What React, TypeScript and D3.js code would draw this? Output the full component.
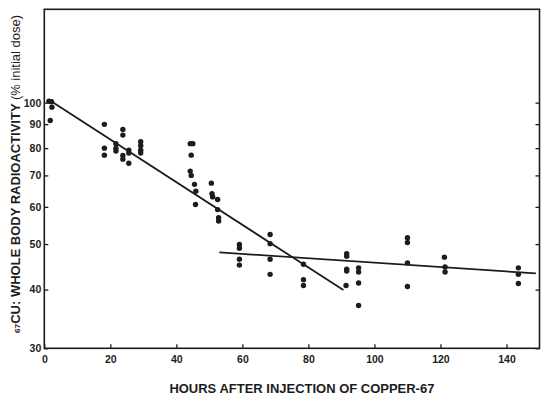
import { useEffect, useRef } from "react";
import * as d3 from "d3";

// hours after injection / whole body radioactivity (% of initial dose)
const hours = [
  1.4, 2.2, 2.3, 1.8,
  18.2, 18.2, 18.2,
  21.7, 21.7, 21.7,
  23.8, 23.8, 23.8, 23.8,
  25.6, 25.6, 25.6,
  29.2, 29.2, 29.2, 29.2,
  44.2, 45.0, 44.5, 44.2, 44.5, 45.5, 45.9, 45.8,
  50.6, 50.8, 51.0,
  52.5, 52.5, 52.8, 52.8,
  59.1, 59.1, 59.1, 59.1,
  68.4, 68.4, 68.4, 68.4,
  78.5, 78.5, 78.5,
  91.6, 91.6, 91.6, 91.6, 91.4,
  95.2, 95.2, 95.2, 95.2,
  110, 110, 110, 110,
  121.2, 121.4, 121.4,
  143.6, 143.6, 143.6,
];
const percent = [
  100.7, 100.4, 97.8, 91.6,
  89.9, 80.0, 77.3,
  81.8, 80.0, 78.9,
  87.7, 85.3, 77.2, 75.8,
  79.2, 78.1, 74.3,
  82.6, 81.0, 79.2, 78.1,
  81.8, 81.8, 77.3, 71.5, 70.0, 67.0, 64.8, 60.7,
  67.4, 64.0, 63.0,
  62.2, 59.2, 56.9, 56.0,
  49.9, 49.0, 46.4, 45.1,
  52.4, 50.1, 46.4, 43.1,
  45.3, 42.0, 40.8,
  47.7, 47.1, 44.2, 43.8, 40.8,
  44.5, 43.6, 41.3, 37.0,
  51.6, 50.4, 45.6, 40.6,
  46.9, 44.7, 43.6,
  44.5, 43.1, 41.2,
];

// fitted lines (early and late phase)
const fastLine: [number, number][] = [[2.2, 100.5], [90.6, 39.9]];
const slowLine: [number, number][] = [[53, 48.0], [148.9, 43.3]];

const xTicks = [0, 20, 40, 60, 80, 100, 120, 140];
const yTicks = [30, 40, 50, 60, 70, 80, 90, 100];

const ink = "#1c1c1c";
const font = "'Liberation Sans', Arial, Helvetica, sans-serif";

export default function App() {
  const svgRef = useRef<SVGSVGElement>(null);

  useEffect(() => {
    const svg = d3.select(svgRef.current);
    svg.selectAll("*").remove();

    const left = 44.3, right = 539.5, top = 9.3, bottom = 348.3;

    const x = d3.scaleLinear().domain([0, 150]).range([left, right]);
    const y = d3.scaleLog().domain([30, 158]).range([bottom, top]);

    svg.append("rect").attr("width", 550).attr("height", 401).attr("fill", "#fff");

    // left axis with labels, ticks pointing inward
    const yAxis = svg
      .append("g")
      .attr("transform", `translate(${left},0)`)
      .call(
        d3.axisLeft(y).tickValues(yTicks).tickSize(-4).tickPadding(3)
          .tickFormat((d) => String(d))
      );
    // right axis, ticks only
    const yAxisR = svg
      .append("g")
      .attr("transform", `translate(${right},0)`)
      .call(d3.axisRight(y).tickValues(yTicks).tickSize(-4).tickFormat(() => ""));
    // bottom axis
    const xAxis = svg
      .append("g")
      .attr("transform", `translate(0,${bottom})`)
      .call(d3.axisBottom(x).tickValues(xTicks).tickSize(-4).tickPadding(7));

    [yAxis, yAxisR, xAxis].forEach((g) => {
      g.select(".domain").remove();
      g.selectAll("line").attr("stroke", ink).attr("stroke-width", 1.3);
      g.selectAll("text")
        .attr("fill", ink)
        .style("font-family", font)
        .style("font-weight", "bold")
        .style("font-size", "10.5px");
    });

    // frame
    svg
      .append("rect")
      .attr("x", left)
      .attr("y", top)
      .attr("width", right - left)
      .attr("height", bottom - top)
      .attr("fill", "none")
      .attr("stroke", ink)
      .attr("stroke-width", 1.6);

    // regression lines
    const line = d3
      .line<[number, number]>()
      .x((d) => x(d[0]))
      .y((d) => y(d[1]));
    [fastLine, slowLine].forEach((l) => {
      svg
        .append("path")
        .attr("d", line(l)!)
        .attr("fill", "none")
        .attr("stroke", ink)
        .attr("stroke-width", 1.8);
    });

    // data points
    svg
      .append("g")
      .selectAll("circle")
      .data(hours.map((h, i) => [h, percent[i]] as [number, number]))
      .join("circle")
      .attr("cx", (d) => x(d[0]))
      .attr("cy", (d) => y(d[1]))
      .attr("r", 2.7)
      .attr("fill", ink);

    // axis titles
    svg
      .append("text")
      .attr("x", (left + right) / 2 + 10)
      .attr("y", 393)
      .attr("text-anchor", "middle")
      .attr("textLength", 265)
      .attr("lengthAdjust", "spacingAndGlyphs")
      .attr("fill", ink)
      .style("font-family", font)
      .style("font-weight", "bold")
      .style("font-size", "13px")
      .text("HOURS AFTER INJECTION OF COPPER-67");

    const yTitle = svg
      .append("text")
      .attr("transform", "translate(20,174) rotate(-90)")
      .attr("text-anchor", "middle")
      .attr("textLength", 318)
      .attr("lengthAdjust", "spacingAndGlyphs")
      .attr("fill", ink)
      .style("font-family", font)
      .style("font-weight", "bold")
      .style("font-size", "12.5px");
    yTitle.append("tspan").style("font-size", "8px").text("67");
    yTitle.append("tspan").text("CU: WHOLE BODY RADIOACTIVITY ");
    yTitle.append("tspan").style("font-weight", "normal").text("(% initial dose)");
  }, []);

  return (
    <svg
      ref={svgRef}
      width={550}
      height={401}
      style={{ position: "absolute", left: 0, top: 0 }}
    />
  );
}
